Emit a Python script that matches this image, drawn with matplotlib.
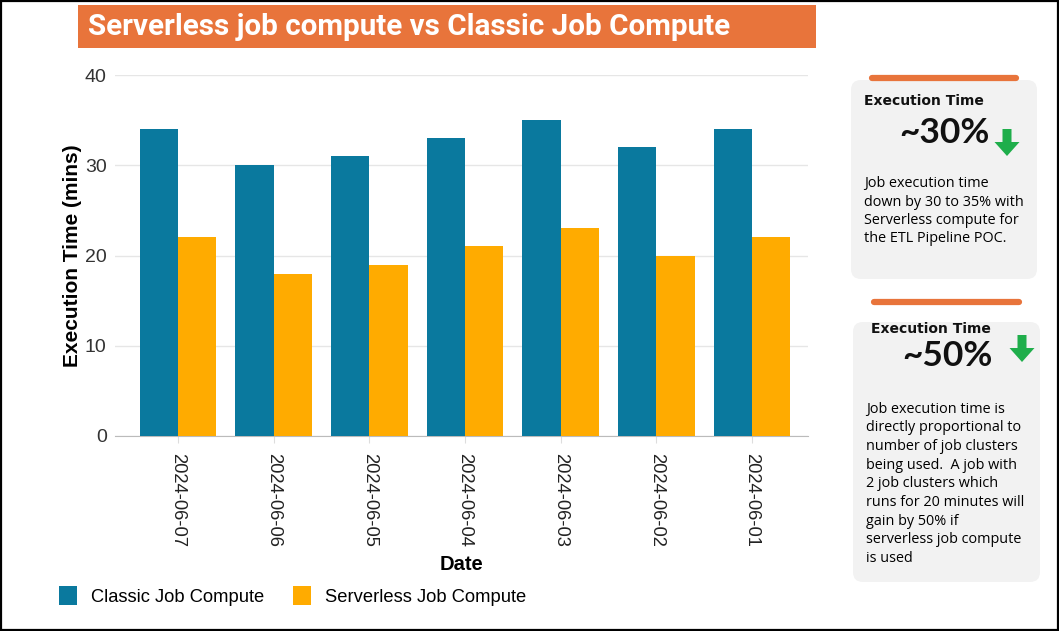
import numpy as np
import matplotlib
matplotlib.use("Agg")
import matplotlib.pyplot as plt
from matplotlib.patches import FancyBboxPatch, Rectangle, FancyArrow

# Data
dates = ["2024-06-07", "2024-06-06", "2024-06-05", "2024-06-04",
         "2024-06-03", "2024-06-02", "2024-06-01"]
classic = [34, 30, 31, 33, 35, 32, 34]
serverless = [22, 18, 19, 21, 23, 20, 22]

title = "Serverless job compute vs Classic Job Compute"
card1_head = "Execution Time"
card1_pct = "~30%"
card1_body = ["Job execution time", "down by 30 to 35% with",
              "Serverless compute for", "the ETL Pipeline POC."]
card2_head = "Execution Time"
card2_pct = "~50%"
card2_body = ["Job execution time is", "directly proportional to",
              "number of job clusters", "being used.  A job with",
              "2 job clusters which", "runs for 20 minutes will",
              "gain by 50% if", "serverless job compute", "is used"]

BLUE = "#0A799E"
GOLD = "#FFAB00"
ORANGE = "#E8743B"
GREEN = "#1FAE4B"
CARD = "#F2F2F2"

W, H = 1059, 631
fig = plt.figure(figsize=(W / 100, H / 100), dpi=100)
fig.patch.set_facecolor("white")

# overlay in pixel coordinates for banner, cards, border
ov = fig.add_axes([0, 0, 1, 1])
ov.set_xlim(0, W)
ov.set_ylim(H, 0)
ov.axis("off")

ov.add_patch(Rectangle((1, 1), W - 2.5, H - 2.5, fill=False, ec="black", lw=1.6))
ov.add_patch(Rectangle((78, 5), 738, 43, fc=ORANGE, ec="none"))
ov.text(88, 27, title, color="white", fontsize=21.3, fontweight="bold",
        family="Roboto", va="center", ha="left")


def card(x0, y0, x1, y1, bar_y, bar_x0, bar_x1, head, hx, hy, pct, px, py,
         ax_, ay_, body, by, step):
    ov.add_patch(FancyBboxPatch((x0 + 10, y0 + 10), x1 - x0 - 20, y1 - y0 - 20,
                                boxstyle="round,pad=10", fc=CARD, ec="none"))
    ov.plot([bar_x0, bar_x1], [bar_y, bar_y], color=ORANGE, lw=4.5,
            solid_capstyle="round")
    ov.text(hx, hy, head, fontsize=10, fontweight="bold", family="DejaVu Sans",
            va="center", ha="left", color="#111111")
    ov.text(px, py, pct, fontsize=25.5, fontweight="bold", family="Lato",
            va="center", ha="left", color="#111111")
    ov.add_patch(FancyArrow(ax_, ay_, 0, 27, width=9, head_width=25,
                            head_length=14, length_includes_head=True,
                            fc=GREEN, ec="none"))
    for i, line in enumerate(body):
        ov.text(x0 + 13, by + i * step, line, fontsize=10.4, family="Open Sans",
                va="center", ha="left", color="#000000")


card(851, 80, 1037, 279, 78, 872, 1016, card1_head, 864, 101,
     card1_pct, 899, 133, 1007, 129, card1_body, 184, 18.3)
card(853, 322, 1040, 582, 302, 874, 1019, card2_head, 871, 329,
     card2_pct, 902, 356, 1022, 335, card2_body, 409, 18.7)

# chart
ax = fig.add_axes([115 / W, (H - 436) / H, 693 / W, (436 - 75) / H])
x = np.arange(len(dates))
bw = 0.4
ax.bar(x - bw / 2, classic, bw, color=BLUE, label="Classic Job Compute", zorder=3)
ax.bar(x + bw / 2, serverless, bw, color=GOLD, label="Serverless Job Compute", zorder=3)
ax.set_xlim(-0.658, len(dates) - 1 + 0.585)
ax.set_ylim(0, 40)
ax.set_yticks([0, 10, 20, 30, 40])
ax.grid(axis="y", color="#E6E6E6", lw=1, zorder=0)
for s in ["top", "right", "left"]:
    ax.spines[s].set_visible(False)
ax.spines["bottom"].set_color("#BBBBBB")
ax.set_xticks(x)
ax.set_xticklabels(dates, rotation=-90, fontsize=13.2, family="Liberation Sans",
                   color="#222222")
ax.tick_params(axis="x", length=5, color="#DDDDDD", pad=7)
ax.tick_params(axis="y", length=0, pad=6, labelsize=14, labelcolor="#333333")
for t in ax.get_yticklabels():
    t.set_family("Liberation Sans")
ax.set_xlabel("Date", fontsize=14.5, fontweight="bold", family="Liberation Sans",
              labelpad=6)
ax.set_ylabel("Execution Time (mins)", fontsize=15, fontweight="bold",
              family="Liberation Sans", labelpad=2)
ax.legend(loc="upper left", bbox_to_anchor=(-73 / 693, -0.37), ncol=2,
          frameon=False, handlelength=1.0, handleheight=1.2,
          columnspacing=1.6, handletextpad=0.75,
          prop={"family": "Liberation Sans", "size": 13.2})

fig.savefig("out.png", dpi=100)
